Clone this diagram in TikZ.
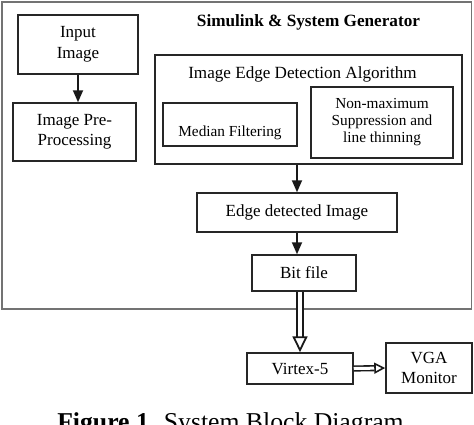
\documentclass[tikz,border=0pt]{standalone}
\usepackage{fontspec}
\setmainfont{Liberation Serif}
\usetikzlibrary{arrows.meta,positioning}

\begin{document}
\begin{tikzpicture}[x=1pt,y=-1pt,
  box/.style={draw=black!85, line width=1.5pt, inner sep=0pt, align=center,
    font=\fontsize{17}{20.5}\selectfont},
  smallbox/.style={box, font=\fontsize{15.3}{17}\selectfont},
  arr/.style={-{Triangle[length=12pt,width=10pt]}, line width=1.8pt, draw=black!90},
  hollow/.style={double, double distance=4pt, line width=1.8pt, draw=black!90,
    -{Triangle[open,length=16pt,width=15pt]}},
  hollowh/.style={double, double distance=3pt, line width=1.6pt, draw=black!90,
    -{Triangle[open,length=11pt,width=11pt]}},
  frame/.style={draw=black!55, line width=1.5pt}]
  \useasboundingbox (0,0) rectangle (474,424);

  % Outer frame
  \draw[frame] (2,2) rectangle (471.5,309);
  \node[anchor=base, font=\fontsize{17.2}{20}\selectfont\bfseries] (simtitle) at (308.5,26.7) {Simulink \& System Generator};

  % Input side
  \node[box, minimum width=120, minimum height=59] (input) at (78,44.5) {Input\\Image};
  \node[box, minimum width=123, minimum height=58] (pre) at (74.5,132) {Image Pre-\\Processing};
  \draw[arr] (input.south) -- (input.south |- pre.north);

  % Edge detection algorithm
  \node[box, minimum width=307, minimum height=109] (algo) at (308.5,109.5) {};
  \node[anchor=base, font=\fontsize{17.1}{20}\selectfont] (algotitle) at (302.5,78.3) {Image Edge Detection Algorithm};
  \node[smallbox, minimum width=134, minimum height=43, text height=27.7pt, text depth=3.3pt] (median) at (230,124.5) {Median Filtering};
  \node[smallbox, minimum width=142, minimum height=71] (nms) at (382,122.5) {Non-maximum\\Suppression and\\line thinning};

  % Output chain
  \node[box, minimum width=200, minimum height=39] (edge) at (297,212.5) {Edge detected Image};
  \node[box, minimum width=104, minimum height=36] (bit) at (304,273) {Bit file};
  \node[box, minimum width=106, minimum height=31] (virtex) at (300,368.5) {Virtex-5};
  \node[box, minimum width=86, minimum height=50] (vga) at (429,368) {VGA\\Monitor};
  \draw[arr] (edge.north |- algo.south) -- (edge.north);
  \draw[arr] (edge.south) -- (edge.south |- bit.north);
  \draw[hollow] (virtex.north |- bit.south) -- (virtex.north);
  \draw[hollowh] (virtex.east) -- (vga.west);

  % Caption
  \node[anchor=base, font=\fontsize{25.7}{30}\selectfont] (caption) at (230.5,430) {\textbf{Figure 1.} System Block Diagram};
\end{tikzpicture}
\end{document}
